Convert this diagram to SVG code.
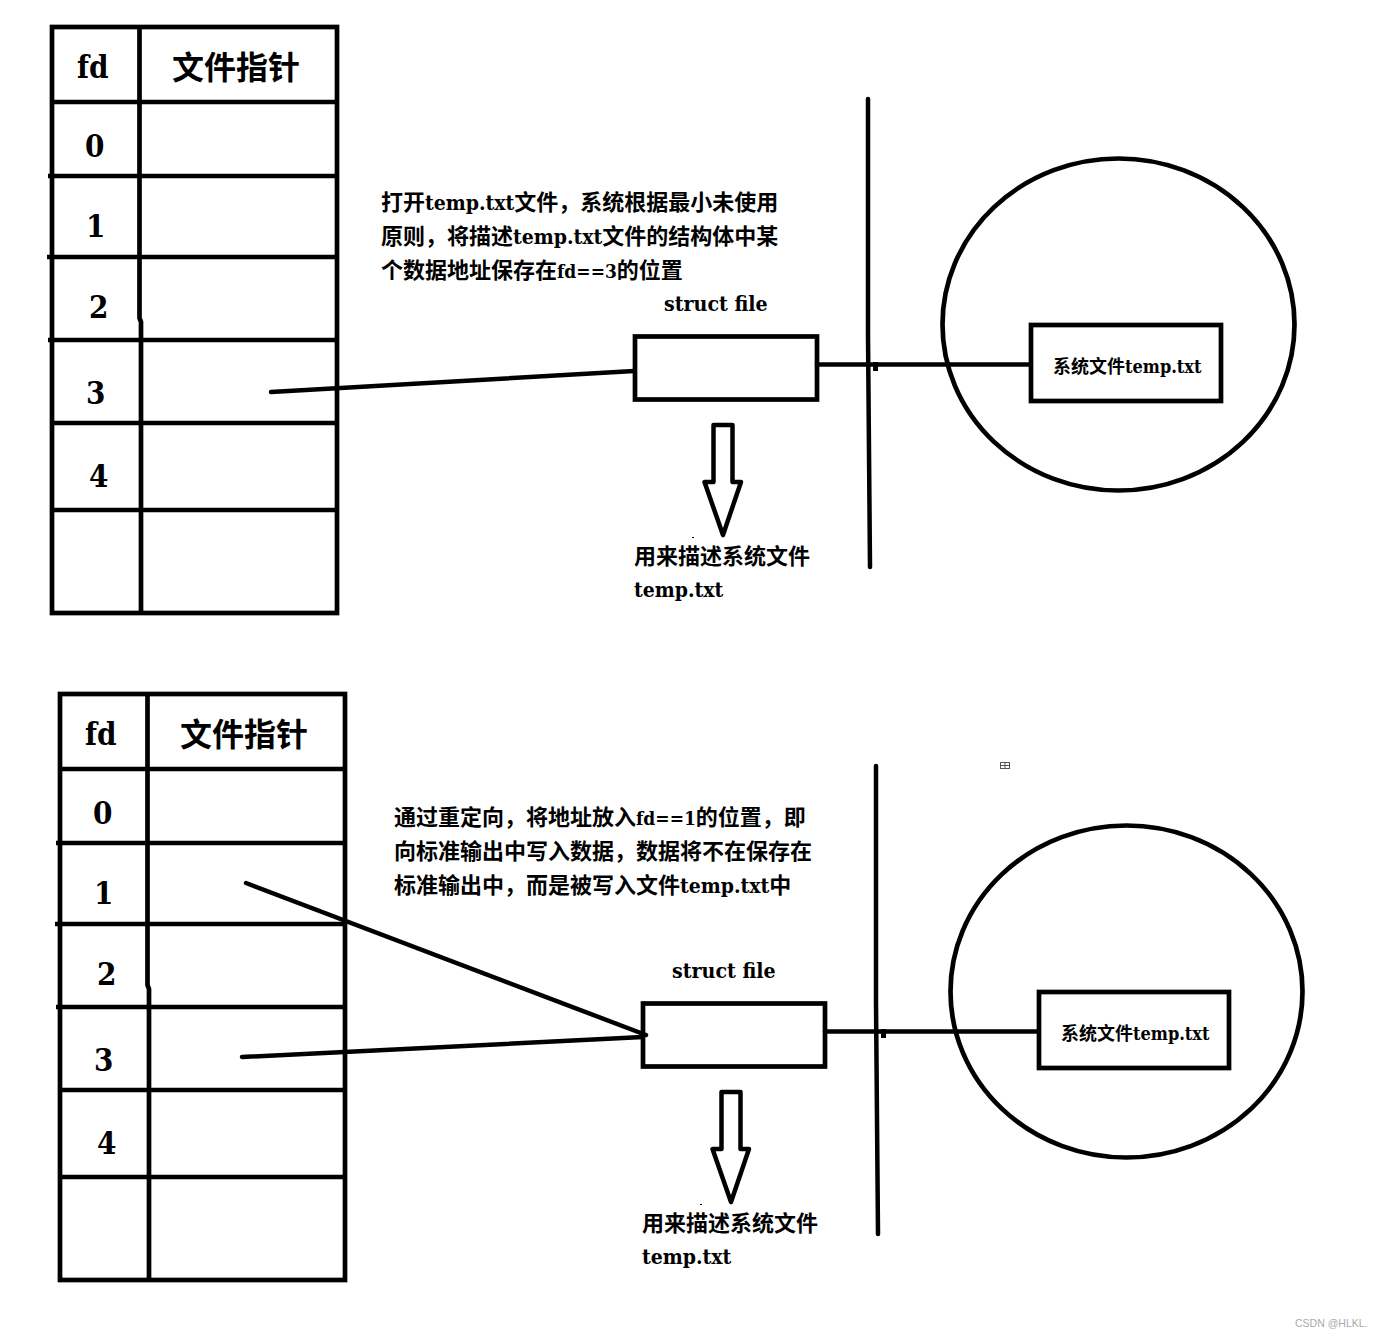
<svg xmlns="http://www.w3.org/2000/svg" width="1379" height="1337" viewBox="0 0 1379 1337">
<style>
.s{fill:none;stroke:#000;stroke-width:4.500;stroke-linecap:round;stroke-linejoin:round}
.b{fill:none;stroke:#000;stroke-width:4.700;stroke-linejoin:miter}
text{font-family:"DejaVu Serif Condensed","DejaVu Serif","Noto Sans CJK SC",serif;font-weight:700;fill:#000}
.c{font-family:"Noto Sans CJK SC","DejaVu Serif Condensed",sans-serif;font-weight:700}
.t{font-size:22px}
.l{font-family:"DejaVu Serif Condensed","DejaVu Serif",serif;font-weight:700}
.t .l,.d{font-size:21px}
.t .e{font-size:19px}
.h{font-size:32px}
.n{font-size:31px}
.f{font-size:21.200px}
.k{font-size:18px}
.k .l{font-size:18px}
.w{font-family:"Liberation Sans",Arial,sans-serif;font-weight:400;font-size:10.500px;fill:#aaa}
</style>
<rect width="1379" height="1337" fill="#fff"/>
<defs>
<g id="grid">
<rect class="b" x="52" y="27" width="285" height="586"/>
<path class="b" d="M139.500 27V318L141 322V613"/>
<path class="b" d="M52 102H337M48 176H337M47 257H337M48 340H337M52 423H339M52 510H337"/>
</g>
<path id="hollow" class="s" d="M713.500 425H732.500V482H741L723 535L704.500 482H713.500Z"/>
</defs>

<g id="connectors">
<path class="s" d="M271 392L634 371"/>
<path class="s" d="M817 364.500H1030"/>
<path class="s" d="M868 99V335L870 567"/>
<rect x="873" y="362" width="5" height="9"/>
<rect x="692" y="537" width="2" height="1"/>
<path class="s" d="M246 883L646 1035"/>
<path class="s" d="M242 1057L643 1037"/>
<path class="s" d="M825 1031.500H1038"/>
<path class="s" d="M876 766V1002L878 1234"/>
<rect x="881" y="1029" width="5" height="9"/>
<rect x="700" y="1204" width="2" height="1"/>
</g>

<g id="table-1">
<use href="#grid"/>
<text class="n" x="77" y="78">fd</text>
<text class="h c" x="172" y="79">文件指针</text>
<text class="n" x="85" y="157">0</text>
<text class="n" x="86" y="237">1</text>
<text class="n" x="89" y="318">2</text>
<text class="n" x="86" y="404">3</text>
<text class="n" x="89" y="487">4</text>
</g>
<g id="note-1">
<text class="t c" x="381" y="210">打开<tspan class="l">temp.txt</tspan>文件，系统根据最小未使用</text>
<text class="t c" x="381" y="244">原则，将描述<tspan class="l">temp.txt</tspan>文件的结构体中某</text>
<text class="t c" x="381" y="278">个数据地址保存在<tspan class="l e">fd==3</tspan>的位置</text>
</g>
<g id="struct-file-1">
<text class="f" x="664" y="311">struct file</text>
<rect class="b" x="635" y="336.500" width="182" height="63"/>
</g>
<g id="arrow-1"><use href="#hollow"/></g>
<g id="desc-1">
<text class="t c" x="634" y="564">用来描述系统文件</text>
<text class="d" x="634" y="597">temp.txt</text>
</g>
<g id="kernel-1">
<ellipse class="b" cx="1118.500" cy="324.500" rx="176" ry="166"/>
<rect class="b" x="1031" y="325" width="190" height="76"/>
<text class="k c" x="1053" y="373">系统文件<tspan class="l">temp.txt</tspan></text>
</g>

<g id="table-2">
<use href="#grid" x="8" y="667"/>
<text class="n" x="85" y="745">fd</text>
<text class="h c" x="180" y="746">文件指针</text>
<text class="n" x="93" y="824">0</text>
<text class="n" x="94" y="904">1</text>
<text class="n" x="97" y="985">2</text>
<text class="n" x="94" y="1071">3</text>
<text class="n" x="97" y="1154">4</text>
</g>
<g id="note-2">
<text class="t c" x="394" y="825">通过重定向，将地址放入<tspan class="l e">fd==1</tspan>的位置，即</text>
<text class="t c" x="394" y="859">向标准输出中写入数据，数据将不在保存在</text>
<text class="t c" x="394" y="893">标准输出中，而是被写入文件<tspan class="l">temp.txt</tspan>中</text>
</g>
<g id="struct-file-2">
<text class="f" x="672" y="978">struct file</text>
<rect class="b" x="643" y="1003.500" width="182" height="63"/>
</g>
<g id="arrow-2"><use href="#hollow" x="8" y="667"/></g>
<g id="desc-2">
<text class="t c" x="642" y="1231">用来描述系统文件</text>
<text class="d" x="642" y="1264">temp.txt</text>
</g>
<g id="kernel-2">
<ellipse class="b" cx="1126.500" cy="991.500" rx="176" ry="166"/>
<rect class="b" x="1039" y="992" width="190" height="76"/>
<text class="k c" x="1061" y="1040">系统文件<tspan class="l">temp.txt</tspan></text>
</g>

<g id="stray-mark" fill="none" stroke="#555" stroke-width="1">
<rect x="1000.500" y="762.500" width="9" height="6"/>
<path d="M1000.500 765.500H1009.500M1005 762.500V768.500"/>
</g>
<text class="w" x="1295" y="1327">CSDN @HLKL.</text>
</svg>
